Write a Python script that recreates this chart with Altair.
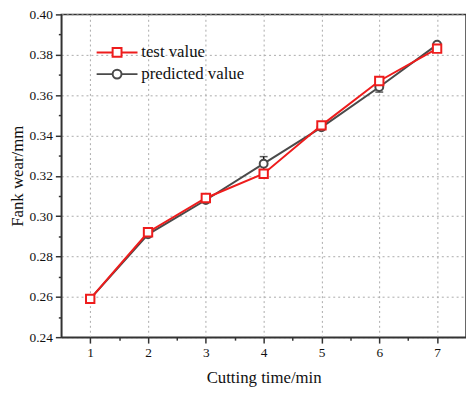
import altair as alt
import pandas as pd

times = [1, 2, 3, 4, 5, 6, 7]
test_vals = [0.259, 0.292, 0.309, 0.321, 0.345, 0.367, 0.383]
pred_vals = [0.259, 0.291, 0.308, 0.326, 0.344, 0.364, 0.385]
pred_err = [0.001, 0.001, 0.001, 0.0035, 0.001, 0.0025, 0.001]
series = ["test value", "predicted value"]
colors = ["#ee1c1c", "#4a4a4a"]

rows = []
for t, v in zip(times, test_vals):
    rows.append({"t": t, "v": v, "s": "test value", "lo": v, "hi": v})
for t, v, e in zip(times, pred_vals, pred_err):
    rows.append({"t": t, "v": v, "s": "predicted value", "lo": v - e, "hi": v + e})
df = pd.DataFrame(rows)

x_vals = [0.5 * i for i in range(2, 15)]
y_vals = [round(0.24 + 0.01 * i, 2) for i in range(17)]

x_axis = alt.Axis(
    title="Cutting time/min", values=x_vals,
    labelExpr="datum.value % 1 === 0 ? format(datum.value, 'd') : ''",
    tickSize={"condition": {"test": "datum.value % 1 === 0", "value": 6}, "value": 3},
    gridOpacity={"condition": {"test": "datum.value % 1 === 0", "value": 1}, "value": 0},
    titlePadding=10,
)
y_axis = alt.Axis(
    title="Fank wear/mm", values=y_vals,
    labelExpr="round(datum.value*100) % 2 === 0 ? format(datum.value, '.2f') : ''",
    tickSize={"condition": {"test": "round(datum.value*100) % 2 === 0", "value": 6}, "value": 3},
    gridOpacity={"condition": {"test": "round(datum.value*100) % 2 === 0", "value": 1}, "value": 0},
    titlePadding=3,
)

xsc = alt.Scale(domain=[0.5, 7.5], nice=False, zero=False)
ysc = alt.Scale(domain=[0.24, 0.40], nice=False, zero=False)
xs = alt.X("t:Q", scale=xsc, axis=x_axis)
ys = alt.Y("v:Q", scale=ysc, axis=y_axis)

sq_path = "M-1,-1H1V1H-1Z M-4.6,0H-1M1,0H4.6"
ci_path = "M-1,0A1,1 0 1,1 1,0A1,1 0 1,1 -1,0Z M-4.6,0H-1M1,0H4.6"

legend = alt.Legend(
    title=None, orient="none", legendX=48, legendY=30,
    labelFont="Liberation Serif", labelFontSize=17, labelColor="#111",
    symbolSize=81, labelOffset=16, rowPadding=4, symbolStrokeWidth=2,
    symbolFillColor="white", symbolOpacity=1,
)

color = alt.Color("s:N", scale=alt.Scale(domain=series, range=colors), legend=legend)

base = alt.Chart(df)
pred = base.transform_filter("datum.s === 'predicted value'")
test = base.transform_filter("datum.s === 'test value'")

errs = pred.mark_errorbar(
    ticks={"size": 8, "thickness": 1.5, "color": "#111"}, color="#111", thickness=1.5
).encode(x=alt.X("t:Q", scale=xsc, axis=x_axis), y=alt.Y("lo:Q", scale=ysc, axis=y_axis), y2="hi:Q")

pts_pred = pred.mark_point(
    shape="circle", size=64, filled=False, fill="white", strokeWidth=2, opacity=1
).encode(x=xs, y=ys, color=color)
pts_test = test.mark_point(
    shape="square", size=72, filled=False, fill="white", strokeWidth=2, opacity=1
).encode(x=xs, y=ys, color=color)

legend_layer = base.mark_point(
    filled=False, fill="white", strokeWidth=2, opacity=0
).encode(
    x=xs, y=ys,
    color=color,
    shape=alt.Shape("s:N", scale=alt.Scale(domain=series, range=[sq_path, ci_path]), legend=legend),
)

chart = alt.layer(
    pred.mark_line(strokeWidth=2).encode(x=xs, y=ys, color=color),
    errs,
    pts_pred,
    test.mark_line(strokeWidth=2).encode(x=xs, y=ys, color=color),
    pts_test,
    legend_layer,
).properties(
    width=410, height=327,
    autosize=alt.AutoSizeParams(type="none"),
    padding={"left": 54, "top": 4, "right": 0, "bottom": 48},
).configure_view(
    stroke="#333", strokeWidth=1.5
).configure_axis(
    labelFont="Liberation Serif", labelFontSize=13.5, labelColor="#111",
    titleFont="Liberation Serif", titleFontSize=17, titleFontWeight="normal", titleColor="#111",
    domainColor="#333", domainWidth=1.5, tickColor="#333", tickWidth=1.5,
    gridColor="#aaaaaa", gridDash=[2, 3], gridWidth=1, labelPadding=3,
)

chart.save("out.html", embed_options={"renderer": "svg", "actions": False})
